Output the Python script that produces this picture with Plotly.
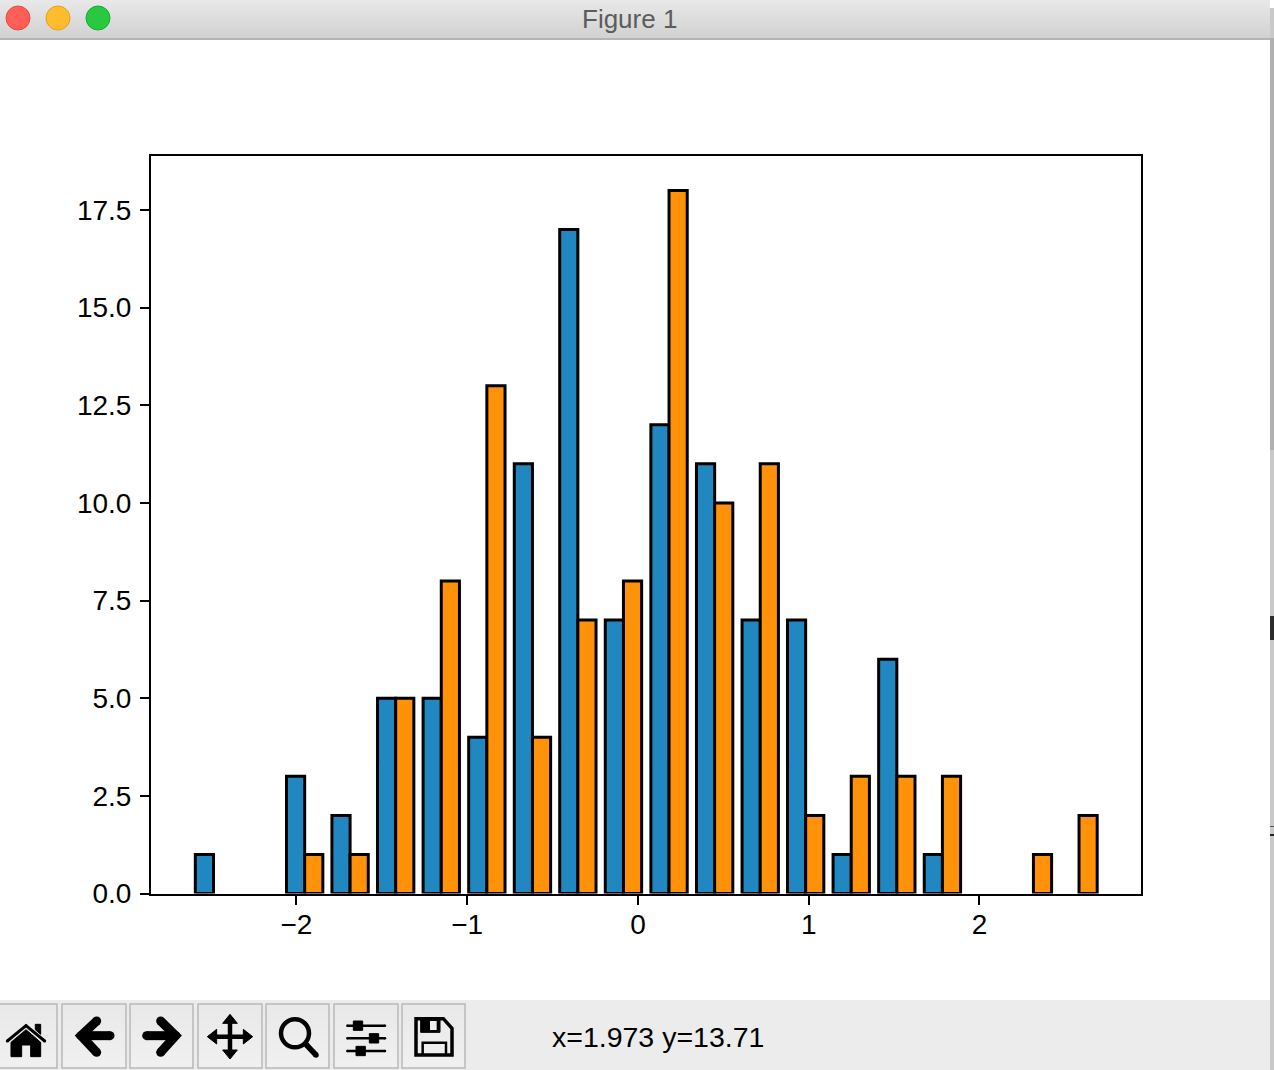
import plotly.graph_objects as go

# bin centres and counts
bin_centers = [-2.486, -2.219, -1.952, -1.686, -1.419, -1.152, -0.885, -0.618, -0.352, -0.085,
               0.182, 0.449, 0.716, 0.982, 1.249, 1.516, 1.783, 2.050, 2.316, 2.583]
blue_counts = [1, None, 3, 2, 5, 5, 4, 11, 17, 7, 12, 11, 7, 7, 1, 6, 1, None, None, None]
orange_counts = [None, None, 1, 1, 5, 8, 13, 4, 7, 8, 18, 10, 11, 2, 3, 3, 3, None, 1, 2]
x_ticks = [-2, -1, 0, 1, 2]
y_ticks = [0, 2.5, 5, 7.5, 10, 12.5, 15, 17.5]

WIDTH, HEIGHT = 1274, 1070
FONT = "Liberation Sans"


def px(x):
    return x / WIDTH


def py(y):
    return 1 - y / HEIGHT


def path(points, close=False):
    d = "M" + " L".join(f"{px(x):.5f},{py(y):.5f}" for x, y in points)
    return d + (" Z" if close else "")


def rect(x0, y0, x1, y1, fill, line=None, lw=0):
    return dict(type="rect", xref="paper", yref="paper", x0=px(x0), x1=px(x1), y0=py(y0), y1=py(y1),
                fillcolor=fill, line=dict(color=line or fill, width=lw))


def circle(cx, cy, r, fill, line=None, lw=0):
    return dict(type="circle", xref="paper", yref="paper", x0=px(cx - r), x1=px(cx + r),
                y0=py(cy + r), y1=py(cy - r), fillcolor=fill, line=dict(color=line or fill, width=lw))


# the icon coordinates below are taken from a 3x crop of the toolbar
def z(pt):
    return (pt[0] / 3, 995 + pt[1] / 3)


def poly(points):
    return dict(type="path", xref="paper", yref="paper", path=path([z(p) for p in points], True),
                fillcolor="black", line=dict(color="black", width=1))


def stroke(points, w):
    # polyline with round ends
    pts = [z(p) for p in points]
    out = [dict(type="path", xref="paper", yref="paper", path=path(pts), line=dict(color="black", width=w))]
    for x, y in pts:
        out.append(circle(x, y, w / 2, "black"))
    return out


shapes = []

# title bar
TOP, BOTTOM = (232, 232, 232), (209, 209, 209)
for i in range(0, 38):
    t = i / 38
    c = tuple(round(a + (b - a) * t) for a, b in zip(TOP, BOTTOM))
    shapes.append(rect(0, i, 1270, i + 1, f"rgb{c}"))
shapes.append(rect(0, 38, 1270, 40, "#b4b4b4"))
shapes.append(circle(18, 18, 12, "#fe5f57", "#e24b41", 1))
shapes.append(circle(58, 18, 12, "#febc2e", "#e1a116", 1))
shapes.append(circle(98, 18, 12, "#28c840", "#1aab29", 1))

# window edge on the right
shapes.append(rect(1270, 8, 1274, 1070, "#c9c9c9"))
shapes.append(rect(1270, 38, 1274, 450, "#b0b0b0"))
shapes.append(rect(1270, 616, 1274, 640, "#2b2b2b"))
shapes.append(rect(1270, 826, 1274, 827, "#555555"))
shapes.append(rect(1270, 834, 1274, 836, "#222222"))

# toolbar
shapes.append(rect(0, 1000, 1270, 1070, "#ececec"))
for x0, x1 in [(-2, 57), (62, 126), (130, 193), (198, 262), (266, 329), (334, 398), (402, 465)]:
    for i in range(8):
        g = 233 + i
        shapes.append(rect(x0, 1004 + i * 8, x1, 1012 + i * 8, f"rgb({g},{g},{g})"))
    shapes.append(rect(x0, 1004, x1, 1068, "rgba(0,0,0,0)", "#b8b8b8", 1.5))

# home
shapes += stroke([(22, 138), (78, 92), (134, 138)], 3)
shapes.append(poly([(33, 142), (78, 104), (122, 142), (122, 185), (92, 185), (92, 150),
                    (65, 150), (65, 185), (33, 185)]))
shapes.append(poly([(106, 88), (122, 88), (122, 118), (106, 104)]))
# back / forward
shapes += stroke([(330, 122), (245, 122)], 9)
shapes += stroke([(290, 78), (243, 122), (290, 172)], 9)
shapes += stroke([(440, 122), (525, 122)], 9)
shapes += stroke([(482, 78), (527, 122), (482, 172)], 9)
# pan
shapes += stroke([(690, 80), (690, 170)], 4.5)
shapes += stroke([(640, 125), (740, 125)], 4.5)
shapes.append(poly([(690, 58), (712, 85), (668, 85)]))
shapes.append(poly([(690, 192), (712, 165), (668, 165)]))
shapes.append(poly([(622, 125), (650, 103), (650, 147)]))
shapes.append(poly([(758, 125), (730, 103), (730, 147)]))
# zoom
cx, cy = z((885, 115))
shapes.append(circle(cx, cy, 14, "rgba(0,0,0,0)", "black", 4.5))
shapes += stroke([(920, 150), (948, 180)], 5.5)
# sliders
for yy, kx in [(92, 1074), (130, 1122), (168, 1082)]:
    shapes += stroke([(1042, yy), (1155, yy)], 2.5)
    shapes.append(poly([(kx - 14, yy - 14), (kx + 14, yy - 14), (kx + 14, yy + 14), (kx - 14, yy + 14)]))
# save
shapes.append(dict(type="path", xref="paper", yref="paper",
                   path=path([z(p) for p in [(1248, 71), (1330, 71), (1356, 100), (1356, 180), (1248, 180)]], True),
                   line=dict(color="black", width=3.5)))
shapes.append(poly([(1262, 72), (1320, 72), (1320, 112), (1262, 112)]))
shapes.append(rect(*z((1290, 78)), *z((1310, 105)), "#eeeeee"))
shapes.append(dict(type="path", xref="paper", yref="paper",
                   path=path([z(p) for p in [(1268, 178), (1268, 143), (1338, 143), (1338, 178)]]),
                   line=dict(color="black", width=2.5)))

fig = go.Figure()
fig.add_trace(go.Bar(x=bin_centers, y=blue_counts, marker=dict(color="#2187c1", line=dict(color="black", width=3))))
fig.add_trace(go.Bar(x=bin_centers, y=orange_counts, marker=dict(color="#ff9208", line=dict(color="black", width=3))))

axis_style = dict(showgrid=False, zeroline=False, showline=True, mirror=True, linecolor="black", linewidth=2,
                  automargin=False, ticks="outside", ticklen=9, tickwidth=2, tickcolor="black",
                  tickfont=dict(family=FONT, size=28, color="black"))

fig.update_layout(
    width=WIDTH,
    height=HEIGHT,
    autosize=False,
    margin=dict(l=0, r=0, t=0, b=0),
    paper_bgcolor="white",
    plot_bgcolor="white",
    showlegend=False,
    barmode="group",
    bargap=0.2,
    bargroupgap=0,
    xaxis=dict(domain=[px(151), px(1141)], range=[-2.852, 2.946], tickvals=x_ticks, ticklabelstandoff=-4, **axis_style),
    yaxis=dict(domain=[py(893.5), py(156)], range=[0, 18.88], tickvals=y_ticks, tickformat=".1f",
               ticklabelstandoff=3, **axis_style),
    shapes=shapes,
    annotations=[
        dict(text="Figure 1", xref="paper", yref="paper", x=px(629), y=py(19), showarrow=False,
             xanchor="center", yanchor="middle", font=dict(family=FONT, size=26, color="#5c5c5c")),
        dict(text="x=1.973 y=13.71", xref="paper", yref="paper", x=px(550), y=py(1037), xanchor="left",
             yanchor="middle", showarrow=False, font=dict(family=FONT, size=28.5, color="black")),
    ],
)

fig.write_html("out.html", config={"displayModeBar": False, "responsive": False},
               default_width="1274px", default_height="1070px",
               post_script="document.body.style.margin='0';")
